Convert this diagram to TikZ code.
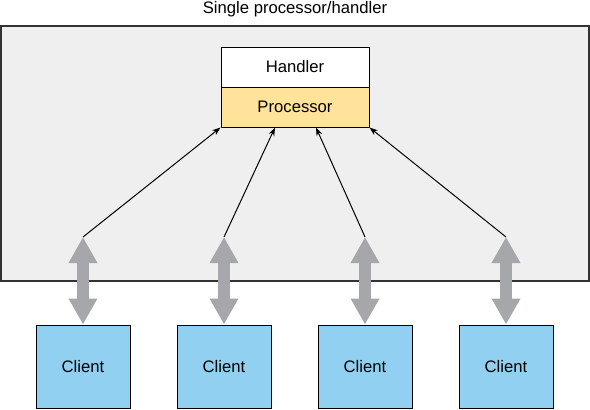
\documentclass[tikz,border=0pt]{standalone}
\usepackage{fontspec}
\setmainfont{Liberation Sans}
\usetikzlibrary{arrows.meta}
\definecolor{framegray}{HTML}{EFEFEF}
\definecolor{procyellow}{HTML}{FFE39B}
\definecolor{clientblue}{HTML}{92D0F1}
\definecolor{arrowgray}{HTML}{A6A7AA}
\begin{document}
\begin{tikzpicture}[x=0.6pt,y=0.6pt,
  font=\fontsize{10}{12}\selectfont,
  box/.style={draw=black,line width=0.6pt,minimum width=88.8pt,minimum height=24pt,inner sep=0pt},
  client/.style={draw=black,line width=0.6pt,fill=clientblue,minimum width=56.4pt,minimum height=49.8pt,inner sep=0pt},
  link/.style={draw=black,line width=0.6pt,-{Stealth[length=5pt,width=3.6pt]}},
  dblarrow/.style={draw=arrowgray,line width=7.2pt,
    {Triangle[length=15.6pt,width=16.2pt]}-{Triangle[length=15.6pt,width=16.2pt]}}]
  \useasboundingbox (0,0) rectangle (590,409);
  \draw[fill=framegray,draw=black!80,line width=0.9pt] (1,128) rectangle (589,383);
  \node (title) at (295,400) {Single processor/handler};
  \node[box,fill=white] (handler) at (295,342) {Handler};
  \node[box,fill=procyellow] (proc) at (295,302) {Processor};
  \node[client] (cl1) at (83,42.5) {Client};
  \node[client] (cl2) at (224,42.5) {Client};
  \node[client] (cl3) at (365,42.5) {Client};
  \node[client] (cl4) at (506,42.5) {Client};
  \coordinate (t1) at (83,172);
  \coordinate (t2) at (224,172);
  \coordinate (t3) at (365,172);
  \coordinate (t4) at (506,172);
  \draw[dblarrow] (cl1.north) -- (t1);
  \draw[dblarrow] (cl2.north) -- (t2);
  \draw[dblarrow] (cl3.north) -- (t3);
  \draw[dblarrow] (cl4.north) -- (t4);
  \draw[link] (t1) -- (proc.south west);
  \draw[link] (t2) -- ([xshift=-12pt]proc.south);
  \draw[link] (t3) -- ([xshift=12.6pt]proc.south);
  \draw[link] (t4) -- (proc.south east);
\end{tikzpicture}
\end{document}
